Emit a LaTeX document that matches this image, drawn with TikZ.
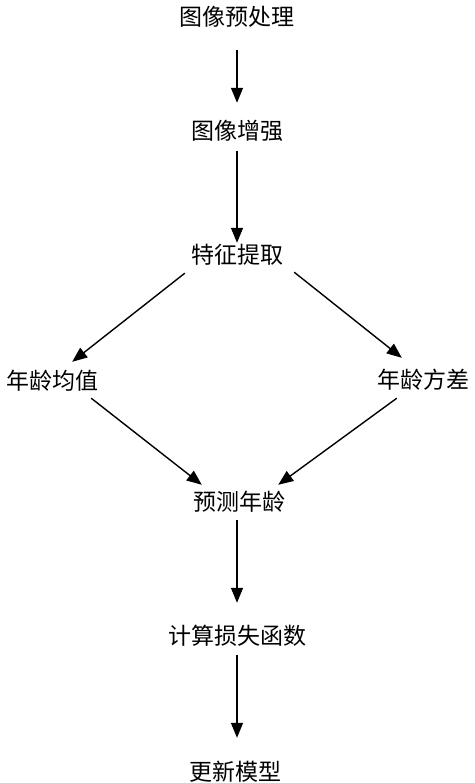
\documentclass[tikz,border=0pt]{standalone}
\usepackage{fontspec}
\newfontfamily\cjk{Noto Sans CJK SC}
\usetikzlibrary{arrows.meta}
\begin{document}
\begin{tikzpicture}[x=1pt,y=-1pt,
  lbl/.style={font=\cjk\fontsize{23}{26}\selectfont,inner sep=0pt,text height=18pt,text depth=2pt},
  flow/.style={-{Triangle[length=15pt,width=12pt]},line width=1.4pt}]
  \useasboundingbox (0,0) rectangle (474,783);
  \node [lbl] (pre)  at (237,18)  {图像预处理};
  \node [lbl] (enh)  at (237,132) {图像增强};
  \node [lbl] (feat) at (237,255) {特征提取};
  \node [lbl] (mean) at (52,381)  {年龄均值};
  \node [lbl] (var)  at (423,380) {年龄方差};
  \node [lbl] (pred) at (239,502) {预测年龄};
  \node [lbl] (loss) at (237,636) {计算损失函数};
  \node [lbl] (upd)  at (235,772) {更新模型};
  \draw [flow] ([shift={(0,22)}]pre.south) -- ([shift={(0,-19)}]enh.north);
  \draw [flow] ([shift={(0,9)}]enh.south) -- ([shift={(0,-2)}]feat.north);
  \draw [flow] ([shift={(-6,8)}]feat.south west) -- ([shift={(-26,-9)}]mean.north east);
  \draw [flow] ([shift={(11,7)}]feat.south east) -- ([shift={(25,-12)}]var.north west);
  \draw [flow] ([shift={(-7,7)}]mean.south east) -- ([shift={(9,-7)}]pred.north west);
  \draw [flow] ([shift={(20,8)}]var.south west) -- ([shift={(-7,-7)}]pred.north east);
  \draw [flow] ([shift={(-2,8)}]pred.south) -- ([shift={(0,-23)}]loss.north);
  \draw [flow] ([shift={(0,9)}]loss.south) -- ([shift={(2,-24)}]upd.north);
\end{tikzpicture}
\end{document}
